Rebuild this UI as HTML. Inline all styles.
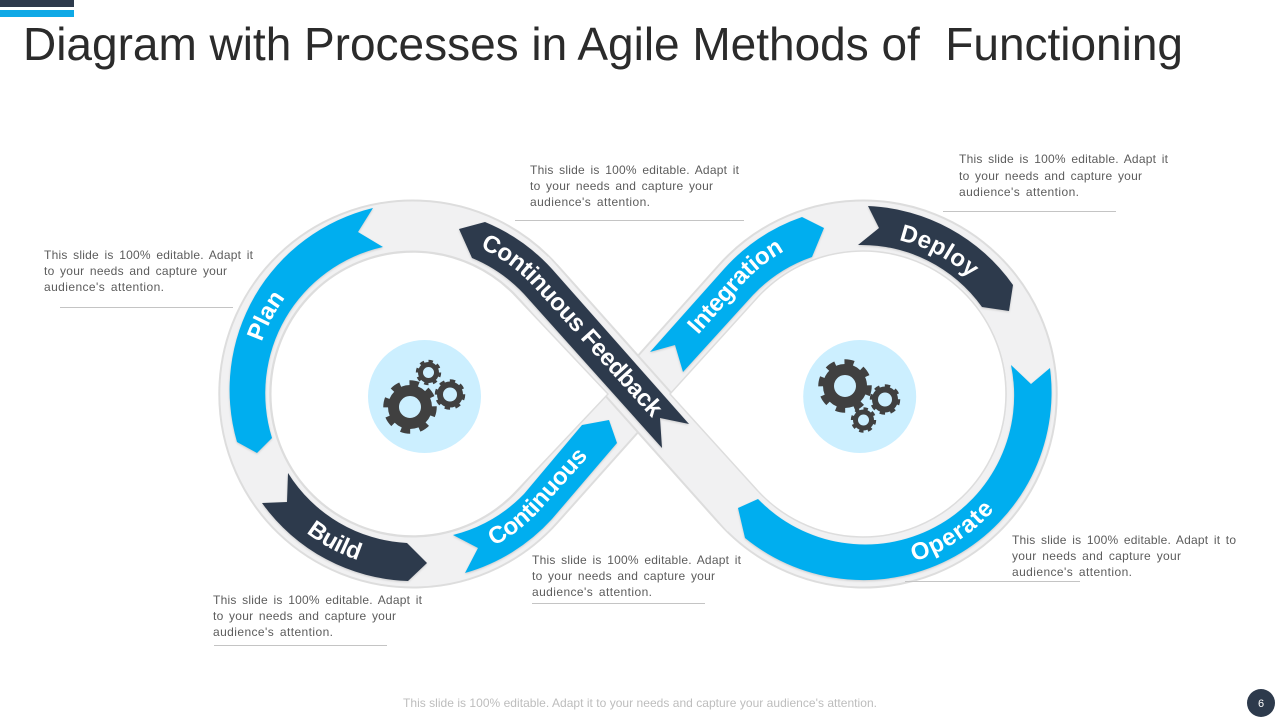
<!DOCTYPE html>
<html><head><meta charset="utf-8">
<style>
html,body{margin:0;padding:0;background:#fff;width:1280px;height:720px;overflow:hidden}
svg{display:block;font-family:"Liberation Sans",Arial,sans-serif}
.t{font-size:12px;fill:#5c5c5c;word-spacing:2px}
.l{font-size:24px;font-weight:bold;fill:#fff}
.r{filter:drop-shadow(0 1px 1px rgba(0,0,0,.16))}
</style></head><body>
<svg width="1280" height="720" viewBox="0 0 1280 720" xmlns="http://www.w3.org/2000/svg">
<defs>
<path id="pPlan" d="M-160,0A160 160 0 0 1 160,0" transform="translate(413 394) rotate(-62)"/>
<path id="pDeploy" d="M-158,0A158 158 0 0 1 158,0" transform="translate(863 394) rotate(28)"/>
<path id="pBuild" d="M-175,0A175 175 0 0 0 175,0" transform="translate(413 394) rotate(28)"/>
<path id="pOperate" d="M-175,0A175 175 0 0 0 175,0" transform="translate(863 394) rotate(-33)"/>
<path id="pCont" d="M494,546A172 172 0 0 0 541,509L640,399"/>
<path id="pFeed" d="M480,248A161 161 0 0 1 533,286L671,439"/>
<path id="pInt" d="M698,335L742,285A163 163 0 0 1 830,234"/>
</defs>
<rect width="1280" height="720" fill="#fff"/>
<rect x="0" y="0" width="74" height="7" fill="#2d3a4c"/>
<rect x="0" y="10" width="74" height="7" fill="#0fa9e6"/>
<text x="23" y="60" font-size="46" fill="#2b2b2b" textLength="1160" lengthAdjust="spacing" xml:space="preserve">Diagram with Processes in Agile Methods of  Functioning</text>

<!-- infinity band -->
<path d="M538,282L738,506A168 168 0 1 0 738,282L538,506A168 168 0 1 1 538,282Z" fill="none" stroke="#dddddd" stroke-width="53" stroke-linejoin="round"/>
<path d="M538,282L738,506A168 168 0 1 0 738,282L538,506A168 168 0 1 1 538,282Z" fill="none" stroke="#f1f1f2" stroke-width="49" stroke-linejoin="round"/>
<path d="M538,282L738,506" fill="none" stroke="#dddddd" stroke-width="53"/>
<path d="M530,273L746,515" fill="none" stroke="#f1f1f2" stroke-width="49"/>
<!-- loop interiors -->
<path d="M608,394L516.3,296.8A142 142 0 1 0 516.3,491.2Z" fill="#fff" stroke="#dddddd" stroke-width="1.5"/>
<path d="M670,394L757,298A143 143 0 1 1 757,490Z" fill="#fff" stroke="#dddddd" stroke-width="1.5"/>

<!-- ribbons -->
<g class="r">
<path fill="#00aeef" d="M373,208A187 187 0 0 0 237,442L257,453L272,438A150 150 0 0 1 383,247L358,232Z"/>
<path fill="#2d3a4c" d="M262,503A187 187 0 0 0 408,581L427,563L407,543A149 149 0 0 1 288,473L287,502Z"/>
<path fill="#00aeef" d="M453,535L478,548L465,573A187 187 0 0 0 552,519L617,443L609,420L582,425L524,494A150 150 0 0 1 453,535Z"/>
<path fill="#00aeef" d="M650,352L724,269A187 187 0 0 1 802,217L824,228L812,257A148 148 0 0 0 753,295L683,372L675,345Z"/>
<path fill="#2d3a4c" d="M868,206A187 187 0 0 1 1013,285L1009,311L982,307A148 148 0 0 0 858,245L879,228Z"/>
<path fill="#00aeef" d="M1050,368A188 188 0 0 1 745,538L738,508L758,499A149 149 0 0 0 1011,365L1031,384Z"/>
<path fill="#2d3a4c" d="M459,229L485,222A187 187 0 0 1 552,269L689,424L660,418L662,448L524,294A150 150 0 0 0 472,258Z"/>
</g>

<!-- ribbon labels -->
<text class="l"><textPath href="#pPlan" startOffset="50%" text-anchor="middle">Plan</textPath></text>
<text class="l" letter-spacing=".4"><textPath href="#pDeploy" startOffset="50%" text-anchor="middle">Deploy</textPath></text>
<text class="l" letter-spacing="-.2"><textPath href="#pBuild" startOffset="50%" text-anchor="middle">Build</textPath></text>
<text class="l" letter-spacing="1"><textPath href="#pOperate" startOffset="50%" text-anchor="middle">Operate</textPath></text>
<text class="l" letter-spacing="-.3"><textPath href="#pCont">Continuous</textPath></text>
<text class="l" letter-spacing="-.4"><textPath href="#pFeed">Continuous Feedback</textPath></text>
<text class="l" letter-spacing="-.3"><textPath href="#pInt">Integration</textPath></text>

<!-- gear discs -->
<circle cx="424.5" cy="396.5" r="56.5" fill="#ccefff"/>
<circle cx="859.7" cy="396.5" r="56.5" fill="#ccefff"/>
<g fill="none" stroke="#404040">
<circle cx="410" cy="407" r="16.5" stroke-width="11"/>
<circle cx="410" cy="407" r="24" stroke-width="5.5" pathLength="16" stroke-dasharray="1 1"/>
<circle cx="450" cy="394.5" r="10" stroke-width="6"/>
<circle cx="450" cy="394.5" r="13.5" stroke-width="3.5" pathLength="16" stroke-dasharray="1 1"/>
<circle cx="428.5" cy="372.5" r="8" stroke-width="5"/>
<circle cx="428.5" cy="372.5" r="11.2" stroke-width="3" pathLength="16" stroke-dasharray="1 1"/>
<circle cx="845" cy="386" r="16.5" stroke-width="11"/>
<circle cx="845" cy="386" r="24" stroke-width="5.5" pathLength="16" stroke-dasharray="1 1"/>
<circle cx="885" cy="399.5" r="10" stroke-width="6"/>
<circle cx="885" cy="399.5" r="13.5" stroke-width="3.5" pathLength="16" stroke-dasharray="1 1"/>
<circle cx="863.5" cy="420" r="8" stroke-width="5"/>
<circle cx="863.5" cy="420" r="11.2" stroke-width="3" pathLength="16" stroke-dasharray="1 1"/>
</g>

<!-- callouts -->
<g class="t">
<text x="530" y="174" textLength="209">This slide is 100% editable. Adapt it</text>
<text x="530" y="190" textLength="183">to your needs and capture your</text>
<text x="530" y="206" textLength="120">audience's attention.</text>
<text x="959" y="163" textLength="209">This slide is 100% editable. Adapt it</text>
<text x="959" y="180" textLength="183">to your needs and capture your</text>
<text x="959" y="196" textLength="120">audience's attention.</text>
<text x="44" y="259" textLength="209">This slide is 100% editable. Adapt it</text>
<text x="44" y="275" textLength="183">to your needs and capture your</text>
<text x="44" y="291" textLength="120">audience's attention.</text>
<text x="213" y="604" textLength="209">This slide is 100% editable. Adapt it</text>
<text x="213" y="620" textLength="183">to your needs and capture your</text>
<text x="213" y="636" textLength="120">audience's attention.</text>
<text x="532" y="564" textLength="209">This slide is 100% editable. Adapt it</text>
<text x="532" y="580" textLength="183">to your needs and capture your</text>
<text x="532" y="596" textLength="120">audience's attention.</text>
<text x="1012" y="544" textLength="224">This slide is 100% editable. Adapt it to</text>
<text x="1012" y="560" textLength="169">your needs and capture your</text>
<text x="1012" y="576" textLength="120">audience's attention.</text>
</g>
<g stroke="#c4c4c4" stroke-width="1">
<path d="M515,220.5H744"/>
<path d="M943,211.5H1116"/>
<path d="M60,307.5H233"/>
<path d="M214,645.5H387"/>
<path d="M532,603.5H705"/>
<path d="M905,581.5H1080"/>
</g>

<!-- footer -->
<text x="403" y="707" font-size="12" fill="#bdbdbd" textLength="474">This slide is 100% editable. Adapt it to your needs and capture your audience's attention.</text>
<circle cx="1261" cy="703" r="14" fill="#2d3a4c"/>
<text x="1261" y="707" font-size="11" fill="#fff" text-anchor="middle">6</text>
</svg>
</body></html>
